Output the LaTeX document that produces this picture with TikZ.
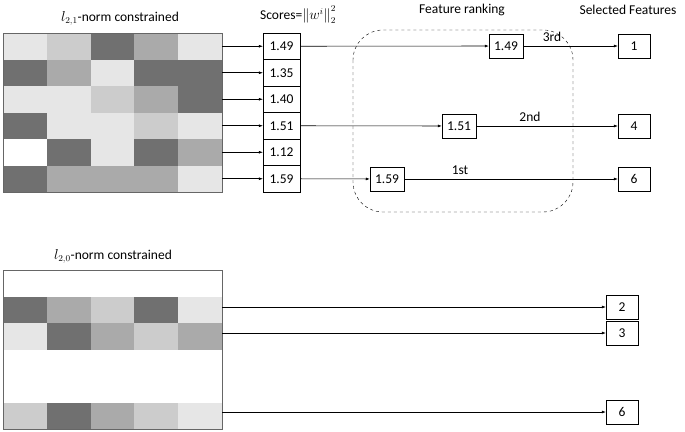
\documentclass[tikz,border=0pt]{standalone}
\usepackage{fontspec}
\setmainfont{Carlito}
\usetikzlibrary{arrows.meta}
\definecolor{cL}{HTML}{E6E6E6}\definecolor{cC}{HTML}{CCCCCC}
\definecolor{cD}{HTML}{707070}\definecolor{cM}{HTML}{AAAAAA}\definecolor{cW}{HTML}{FFFFFF}
\begin{document}
\begin{tikzpicture}[x=1pt,y=-1pt,font=\fontsize{13.5}{15}\selectfont,
 bx/.style={draw,minimum width=34pt,minimum height=24pt,inner sep=0pt},
 sb/.style={draw,minimum width=37pt,minimum height=26.5pt,inner sep=0pt},
 ar/.style={line width=0.6pt,-{Latex[length=4pt,width=3pt]}}]
\useasboundingbox (0,0) rectangle (685,431);
\def\cw{43.8}\def\rh{26.5}
\newcommand\gridrow[3]{\foreach \c [count=\i from 0] in {#3}{\fill[\c] (3+\i*\cw,#1+#2*\rh) rectangle ++(\cw,\rh);}}
\gridrow{33}{0}{cL,cC,cD,cM,cL}
\gridrow{33}{1}{cD,cM,cL,cD,cD}
\gridrow{33}{2}{cL,cL,cC,cM,cD}
\gridrow{33}{3}{cD,cL,cL,cC,cL}
\gridrow{33}{4}{cW,cD,cL,cD,cM}
\gridrow{33}{5}{cD,cM,cM,cM,cL}
\draw[gray!80!black] (3,33) rectangle (222,192);
\gridrow{270}{1}{cD,cM,cC,cD,cL}
\gridrow{270}{2}{cL,cD,cM,cC,cM}
\gridrow{270}{5}{cC,cD,cM,cC,cL}
\draw[gray!80!black] (3,270) rectangle (222,429);
\node at (120,18) {$l_{2,1}$-norm constrained};
\node at (113,256) {$l_{2,0}$-norm constrained};
\node at (298,15) {Scores=$\left\|w^i\right\|_2^2$};
\node at (462,10) {Feature ranking};
\node at (628,10) {Selected Features};
\draw[dashed,rounded corners=30pt] (353,30) rectangle (573,212);
\foreach \v [count=\k from 0] in {1.49,1.35,1.40,1.51,1.12,1.59}{
 \node[sb] (s\k) at (281.5,46.25+\k*\rh) {\v};
 \coordinate (g\k) at (222,46.25+\k*\rh);
 \draw[ar] (g\k) -- (s\k);}
\node[bx] (r0) at (506,46) {1.49};
\node[bx] (r3) at (459,126) {1.51};
\node[bx] (r5) at (387,179) {1.59};
\node[bx,minimum width=32pt] (f0) at (634,46) {1};
\node[bx,minimum width=32pt] (f3) at (634,126) {4};
\node[bx,minimum width=32pt] (f5) at (634,179) {6};
\foreach \k in {0,3,5}{\draw[ar] (s\k) -- (r\k); \draw[ar] (r\k) -- (f\k);}
\node at (552,37) {3rd};
\node at (530,117) {2nd};
\node at (460,170) {1st};
\node[bx,minimum width=32pt] (b1) at (622,307) {2};
\node[bx,minimum width=32pt] (b2) at (622,333) {3};
\node[bx,minimum width=32pt] (b3) at (622,412) {6};
\coordinate (h1) at (222,307);\coordinate (h2) at (222,333);\coordinate (h3) at (222,412);
\foreach \k in {1,2,3}{\draw[ar] (h\k) -- (b\k);}
\end{tikzpicture}
\end{document}
